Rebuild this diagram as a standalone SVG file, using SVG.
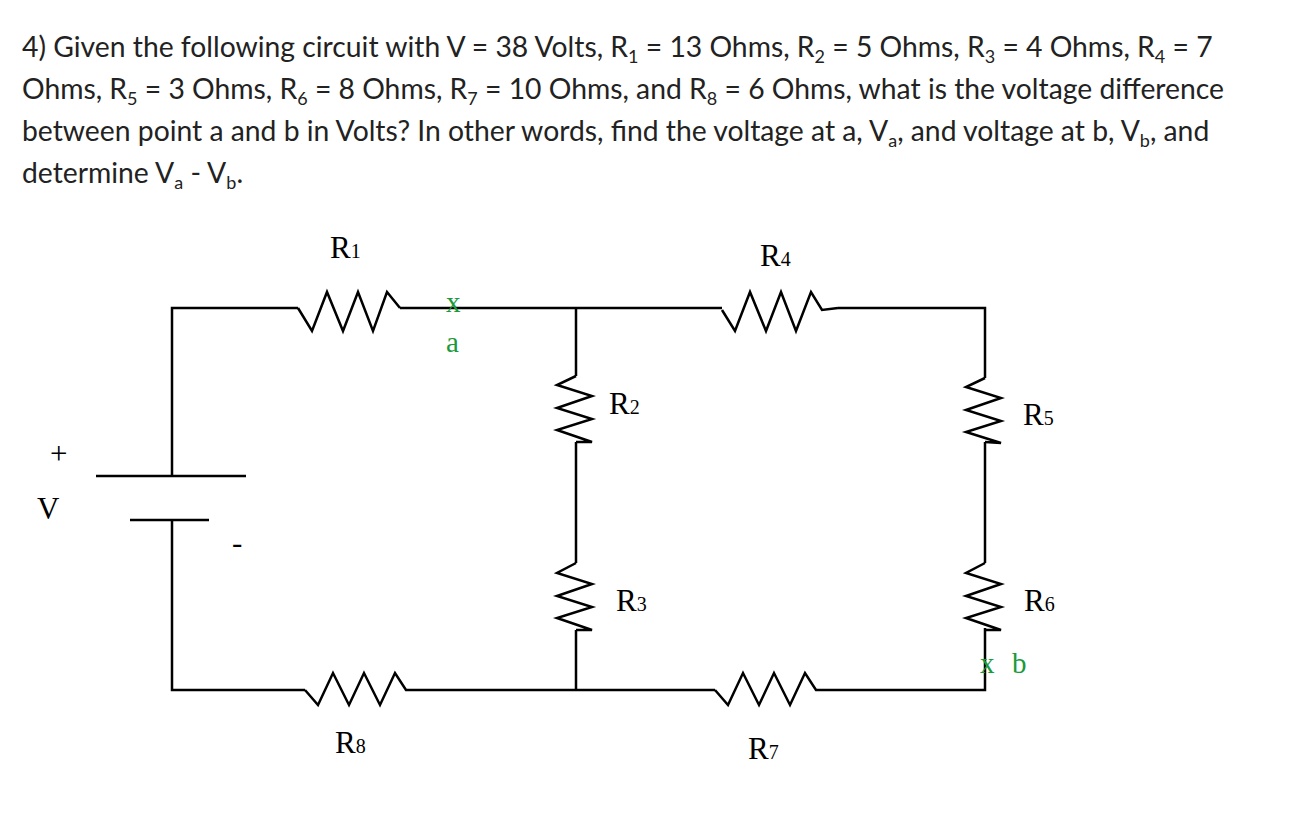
<svg xmlns="http://www.w3.org/2000/svg" width="1290" height="814" viewBox="0 0 1290 814">
<style>
.q{font-family:Lato,"Open Sans",sans-serif;font-size:28.3px;fill:#222}
.s{font-size:18px}
.w{fill:none;stroke:#000;stroke-width:2.5;stroke-linejoin:miter}
.l{font-family:"Liberation Serif",serif;font-size:31px;fill:#000}
.g{font-family:"Liberation Serif",serif;font-size:29px;fill:#1a9a3a}
</style>
<rect width="1290" height="814" fill="#fff"/>
<g id="question">
<text class="q" x="22" y="57">4) Given the following circuit with V = 38 Volts, R<tspan class="s" dy="6">1</tspan><tspan dy="-6"> = 13 Ohms, R</tspan><tspan class="s" dy="6">2</tspan><tspan dy="-6"> = 5 Ohms, R</tspan><tspan class="s" dy="6">3</tspan><tspan dy="-6"> = 4 Ohms, R</tspan><tspan class="s" dy="6">4</tspan><tspan dy="-6"> = 7</tspan></text>
<text class="q" x="22" y="99">Ohms, R<tspan class="s" dy="6">5</tspan><tspan dy="-6"> = 3 Ohms, R</tspan><tspan class="s" dy="6">6</tspan><tspan dy="-6"> = 8 Ohms, R</tspan><tspan class="s" dy="6">7</tspan><tspan dy="-6"> = 10 Ohms, and R</tspan><tspan class="s" dy="6">8</tspan><tspan dy="-6"> = 6 Ohms, what is the voltage difference</tspan></text>
<text class="q" x="22" y="141">between point a and b in Volts? In other words, find the voltage at a, V<tspan class="s" dy="6">a</tspan><tspan dy="-6">, and voltage at b, V</tspan><tspan class="s" dy="6">b</tspan><tspan dy="-6">, and</tspan></text>
<text class="q" x="22" y="183">determine V<tspan class="s" dy="6">a</tspan><tspan dy="-6"> - V</tspan><tspan class="s" dy="6">b</tspan><tspan dy="-6">.</tspan></text>
</g>
<g id="wires">
<path class="w" d="M172,475 V308 H298 M400,308 H722 M838,308 H985 V378"/>
<path class="w" d="M172,520 V690 H305 M420,690 H715 M835,690 H985 V628"/>
<path class="w" d="M576,308 V376 M576,442 V563 M576,630 V690"/>
<path class="w" d="M985,442 V563"/>
</g>
<g id="battery">
<path class="w" d="M96,476 H246 M130,520 H209"/>
<text class="l" x="50" y="464">+</text>
<text class="l" x="37" y="519">V</text>
<text class="l" x="232" y="553">-</text>
</g>
<g id="R1"><path class="w" d="M298,308 L312,331 L327,292 L343,331 L358,292 L373,331 L387,292 L400,308"/><text class="l" x="330" y="258">R<tspan font-size="20">1</tspan></text></g>
<g id="R4"><path class="w" d="M722,310 L735,331 L750,292 L766,331 L781,292 L796,331 L811,292 L822,310 L838,308"/><text class="l" x="760" y="266">R<tspan font-size="20">4</tspan></text></g>
<g id="R8"><path class="w" d="M305,690 L318,705 L333,673 L349,705 L364,673 L380,705 L395,673 L406,690 L420,690"/><text class="l" x="335" y="753">R<tspan font-size="20">8</tspan></text></g>
<g id="R7"><path class="w" d="M715,690 L728,705 L743,673 L759,705 L774,673 L790,705 L805,673 L816,690 L835,690"/><text class="l" x="748" y="759">R<tspan font-size="20">7</tspan></text></g>
<g id="R2"><path class="w" d="M576,376 L557,385 L592,396 L557,408 L592,419 L557,430 L592,442 L576,442"/><text class="l" x="609" y="414">R<tspan font-size="20">2</tspan></text></g>
<g id="R3"><path class="w" d="M576,563 L557,573 L592,584 L557,596 L592,607 L557,618 L592,630 L576,630"/><text class="l" x="616" y="611">R<tspan font-size="20">3</tspan></text></g>
<g id="R5"><path class="w" d="M985,378 L966,387 L1001,398 L966,410 L1001,421 L966,432 L1001,443 L985,442"/><text class="l" x="1023" y="425">R<tspan font-size="20">5</tspan></text></g>
<g id="R6"><path class="w" d="M985,563 L966,573 L1001,584 L966,596 L1001,607 L966,618 L1001,630 L985,630"/><text class="l" x="1024" y="611">R<tspan font-size="20">6</tspan></text></g>
<g id="pointA"><text class="g" x="446" y="312">x</text><text class="g" x="446" y="352">a</text></g>
<g id="pointB"><text class="g" x="980" y="673">x</text><text class="g" x="1012" y="673">b</text></g>
</svg>
